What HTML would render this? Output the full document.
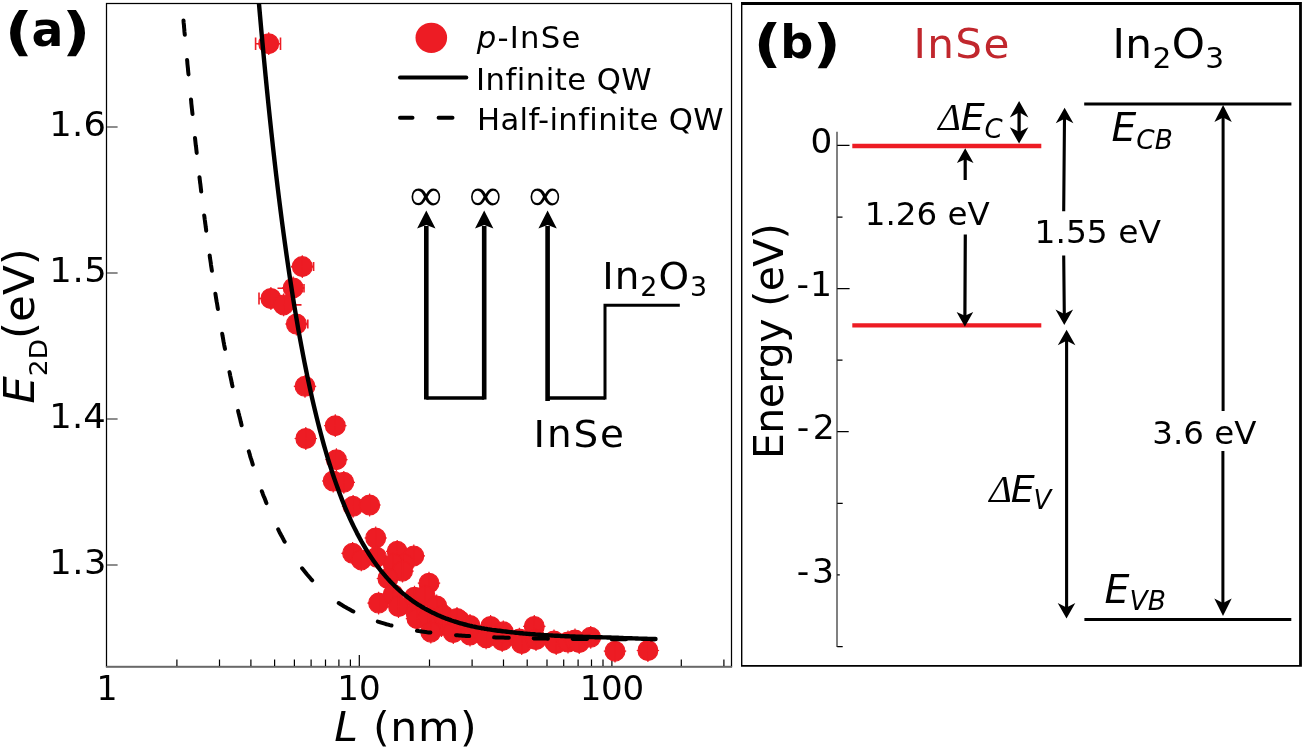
<!DOCTYPE html>
<html lang="en"><head><meta charset="utf-8"><title>Figure: InSe quantum well energies and band alignment</title>
<style>html,body{margin:0;padding:0;background:#fff}svg{display:block}text{font-family:"DejaVu Sans","Liberation Sans",sans-serif}</style></head><body>
<svg width="1304" height="752" viewBox="0 0 1304 752">
<rect width="1304" height="752" fill="#fff"/>
<g id="panelA">
<clipPath id="clipA"><rect x="106.5" y="3.5" width="625.0" height="663.0"/></clipPath>
<rect x="106.5" y="3.5" width="625.0" height="663.0" fill="none" stroke="#000" stroke-width="1.25"/>
<path d="M176.9 666.5 v-7 M219.5 666.5 v-7 M250.9 666.5 v-7 M274.6 666.5 v-7 M294.4 666.5 v-7 M311.1 666.5 v-7 M325.5 666.5 v-7 M338.9 666.5 v-7 M350.4 666.5 v-7 M359.3 666.5 v-11.5 M429.5 666.5 v-7 M472.1 666.5 v-7 M503.5 666.5 v-7 M527.2 666.5 v-7 M547.0 666.5 v-7 M563.7 666.5 v-7 M578.1 666.5 v-7 M591.5 666.5 v-7 M603.0 666.5 v-7 M611.9 666.5 v-11.5 M681.3 666.5 v-7 M723.9 666.5 v-7" stroke="#000" stroke-width="1.2" fill="none"/>
<path d="M105.9 666.8 H732.1 M107.0 127.0 h10.6 M107.0 273.0 h10.6 M107.0 419.0 h10.6 M107.0 565.0 h10.6" stroke="#686868" stroke-width="1.7" fill="none"/>
<g fill="#ed1c24" stroke="#ed1c24" stroke-width="1.2">
<circle cx="268.7" cy="43.7" r="9.9"/>
<path d="M257.5 43.7 h22.4 M268.7 32.3 v22.8"/>
<circle cx="302.3" cy="266.6" r="9.9"/>
<path d="M291.1 266.6 h22.4 M302.3 255.2 v22.8"/>
<circle cx="293.2" cy="287.9" r="9.9"/>
<path d="M282.0 287.9 h22.4 M293.2 276.5 v22.8"/>
<circle cx="270.9" cy="298.5" r="9.9"/>
<path d="M259.7 298.5 h22.4 M270.9 287.1 v22.8"/>
<circle cx="283.6" cy="304.9" r="9.9"/>
<path d="M272.4 304.9 h22.4 M283.6 293.5 v22.8"/>
<circle cx="296.4" cy="324.0" r="9.9"/>
<path d="M285.2 324.0 h22.4 M296.4 312.6 v22.8"/>
<circle cx="305.0" cy="386.3" r="9.9"/>
<path d="M293.8 386.3 h22.4 M305.0 374.9 v22.8"/>
<circle cx="335.3" cy="425.7" r="9.9"/>
<path d="M324.1 425.7 h22.4 M335.3 414.3 v22.8"/>
<circle cx="305.8" cy="438.5" r="9.9"/>
<path d="M294.6 438.5 h22.4 M305.8 427.1 v22.8"/>
<circle cx="336.4" cy="459.7" r="9.9"/>
<path d="M325.2 459.7 h22.4 M336.4 448.3 v22.8"/>
<circle cx="333.2" cy="481.0" r="9.9"/>
<path d="M322.0 481.0 h22.4 M333.2 469.6 v22.8"/>
<circle cx="343.8" cy="482.3" r="9.9"/>
<path d="M332.6 482.3 h22.4 M343.8 470.9 v22.8"/>
<circle cx="353.1" cy="506.3" r="9.9"/>
<path d="M341.9 506.3 h22.4 M353.1 494.9 v22.8"/>
<circle cx="369.6" cy="505.0" r="9.9"/>
<path d="M358.4 505.0 h22.4 M369.6 493.6 v22.8"/>
<circle cx="375.7" cy="538.0" r="9.9"/>
<path d="M364.5 538.0 h22.4 M375.7 526.6 v22.8"/>
<circle cx="352.6" cy="553.3" r="9.9"/>
<path d="M341.4 553.3 h22.4 M352.6 541.9 v22.8"/>
<circle cx="361.3" cy="559.9" r="9.9"/>
<path d="M350.1 559.9 h22.4 M361.3 548.5 v22.8"/>
<circle cx="376.6" cy="557.2" r="9.9"/>
<path d="M365.4 557.2 h22.4 M376.6 545.8 v22.8"/>
<circle cx="397.2" cy="551.3" r="9.9"/>
<path d="M386.0 551.3 h22.4 M397.2 539.9 v22.8"/>
<circle cx="413.8" cy="555.9" r="9.9"/>
<path d="M402.6 555.9 h22.4 M413.8 544.5 v22.8"/>
<circle cx="403.9" cy="563.9" r="9.9"/>
<path d="M392.7 563.9 h22.4 M403.9 552.5 v22.8"/>
<circle cx="393.2" cy="563.9" r="9.9"/>
<path d="M382.0 563.9 h22.4 M393.2 552.5 v22.8"/>
<circle cx="402.5" cy="571.2" r="9.9"/>
<path d="M391.3 571.2 h22.4 M402.5 559.8 v22.8"/>
<circle cx="387.9" cy="578.5" r="9.9"/>
<path d="M376.7 578.5 h22.4 M387.9 567.1 v22.8"/>
<circle cx="429.0" cy="583.2" r="9.9"/>
<path d="M417.8 583.2 h22.4 M429.0 571.8 v22.8"/>
<circle cx="378.6" cy="603.1" r="9.9"/>
<path d="M367.4 603.1 h22.4 M378.6 591.7 v22.8"/>
<circle cx="393.2" cy="594.5" r="9.9"/>
<path d="M382.0 594.5 h22.4 M393.2 583.1 v22.8"/>
<circle cx="398.5" cy="606.5" r="9.9"/>
<path d="M387.3 606.5 h22.4 M398.5 595.1 v22.8"/>
<circle cx="414.5" cy="597.2" r="9.9"/>
<path d="M403.3 597.2 h22.4 M414.5 585.8 v22.8"/>
<circle cx="425.0" cy="596.0" r="9.9"/>
<path d="M413.8 596.0 h22.4 M425.0 584.6 v22.8"/>
<circle cx="436.7" cy="606.0" r="9.9"/>
<path d="M425.5 606.0 h22.4 M436.7 594.6 v22.8"/>
<circle cx="416.0" cy="612.5" r="9.9"/>
<path d="M404.8 612.5 h22.4 M416.0 601.1 v22.8"/>
<circle cx="417.0" cy="618.7" r="9.9"/>
<path d="M405.8 618.7 h22.4 M417.0 607.3 v22.8"/>
<circle cx="441.5" cy="625.5" r="9.9"/>
<path d="M430.3 625.5 h22.4 M441.5 614.1 v22.8"/>
<circle cx="428.5" cy="617.5" r="9.9"/>
<path d="M417.3 617.5 h22.4 M428.5 606.1 v22.8"/>
<circle cx="443.4" cy="615.3" r="9.9"/>
<path d="M432.2 615.3 h22.4 M443.4 603.9 v22.8"/>
<circle cx="430.8" cy="632.2" r="9.9"/>
<path d="M419.6 632.2 h22.4 M430.8 620.8 v22.8"/>
<circle cx="459.6" cy="620.5" r="9.9"/>
<path d="M448.4 620.5 h22.4 M459.6 609.1 v22.8"/>
<circle cx="453.3" cy="632.5" r="9.9"/>
<path d="M442.1 632.5 h22.4 M453.3 621.1 v22.8"/>
<circle cx="470.0" cy="625.5" r="9.9"/>
<path d="M458.8 625.5 h22.4 M470.0 614.1 v22.8"/>
<circle cx="470.0" cy="635.0" r="9.9"/>
<path d="M458.8 635.0 h22.4 M470.0 623.6 v22.8"/>
<circle cx="457.0" cy="618.4" r="9.9"/>
<path d="M445.8 618.4 h22.4 M457.0 607.0 v22.8"/>
<circle cx="490.6" cy="626.5" r="9.9"/>
<path d="M479.4 626.5 h22.4 M490.6 615.1 v22.8"/>
<circle cx="486.1" cy="637.8" r="9.9"/>
<path d="M474.9 637.8 h22.4 M486.1 626.4 v22.8"/>
<circle cx="502.2" cy="640.6" r="9.9"/>
<path d="M491.0 640.6 h22.4 M502.2 629.2 v22.8"/>
<circle cx="503.3" cy="631.8" r="9.9"/>
<path d="M492.1 631.8 h22.4 M503.3 620.4 v22.8"/>
<circle cx="519.4" cy="639.1" r="9.9"/>
<path d="M508.2 639.1 h22.4 M519.4 627.7 v22.8"/>
<circle cx="521.7" cy="643.6" r="9.9"/>
<path d="M510.5 643.6 h22.4 M521.7 632.2 v22.8"/>
<circle cx="534.3" cy="626.4" r="9.9"/>
<path d="M523.1 626.4 h22.4 M534.3 615.0 v22.8"/>
<circle cx="536.0" cy="639.5" r="9.9"/>
<path d="M524.8 639.5 h22.4 M536.0 628.1 v22.8"/>
<circle cx="554.0" cy="641.0" r="9.9"/>
<path d="M542.8 641.0 h22.4 M554.0 629.6 v22.8"/>
<circle cx="556.2" cy="643.6" r="9.9"/>
<path d="M545.0 643.6 h22.4 M556.2 632.2 v22.8"/>
<circle cx="568.0" cy="642.0" r="9.9"/>
<path d="M556.8 642.0 h22.4 M568.0 630.6 v22.8"/>
<circle cx="575.0" cy="640.0" r="9.9"/>
<path d="M563.8 640.0 h22.4 M575.0 628.6 v22.8"/>
<circle cx="579.2" cy="642.5" r="9.9"/>
<path d="M568.0 642.5 h22.4 M579.2 631.1 v22.8"/>
<circle cx="590.7" cy="637.3" r="9.9"/>
<path d="M579.5 637.3 h22.4 M590.7 625.9 v22.8"/>
<circle cx="615.0" cy="651.2" r="9.9"/>
<path d="M603.8 651.2 h22.4 M615.0 639.8 v22.8"/>
<circle cx="647.9" cy="650.5" r="9.9"/>
<path d="M636.7 650.5 h22.4 M647.9 639.1 v22.8"/>
<path fill="none" stroke-width="1.6" d="M255.6 43.7 H280.5 M255.6 37.5 v12.5 M280.5 37.5 v12.5 M259 298.5 H283 M259 292.5 v12 M283.6 304.9 H301.5 M296 324 H307.8 M307.8 319.5 v9 M277.5 288.3 H304 M304 284 v8.5 M291 266.6 H313.6 M313.6 262 v9"/>
</g>
<g clip-path="url(#clipA)" fill="none" stroke="#000" stroke-linecap="round" stroke-linejoin="round">
<path stroke-width="4.4" d="M255.0 -44.1 L256.5 -25.7 L258.0 -7.7 L259.5 9.7 L261.0 26.7 L262.5 43.3 L264.0 59.4 L265.5 75.0 L267.0 90.2 L268.5 105.1 L270.0 119.5 L271.5 133.5 L273.0 147.2 L274.5 160.5 L276.0 173.4 L277.5 186.0 L279.0 198.2 L280.5 210.1 L282.0 221.7 L283.5 233.0 L285.0 243.9 L286.5 254.6 L288.0 265.0 L289.5 275.1 L291.0 284.9 L292.5 294.5 L294.0 303.8 L295.5 312.9 L297.0 321.7 L298.5 330.3 L300.0 338.6 L301.5 346.7 L303.0 354.6 L304.5 362.3 L306.0 369.8 L307.5 377.1 L309.0 384.1 L310.5 391.0 L312.0 397.7 L313.5 404.3 L315.0 410.6 L316.5 416.8 L318.0 422.8 L319.5 428.6 L321.0 434.3 L322.5 439.9 L324.0 445.3 L325.5 450.5 L327.0 455.6 L328.5 460.6 L330.0 465.4 L331.5 470.1 L333.0 474.7 L334.5 479.1 L336.0 483.4 L337.5 487.6 L339.0 491.7 L340.5 495.7 L342.0 499.6 L343.5 503.4 L345.0 507.0 L346.5 510.6 L348.0 514.1 L349.5 517.5 L351.0 520.8 L352.5 524.0 L354.0 527.1 L355.5 530.1 L357.0 533.1 L358.5 535.9 L360.0 538.7 L361.5 541.5 L363.0 544.1 L364.5 546.7 L366.0 549.2 L367.5 551.6 L369.0 554.0 L370.5 556.3 L372.0 558.5 L373.5 560.7 L375.0 562.8 L376.5 564.9 L378.0 566.9 L379.5 568.9 L381.0 570.8 L382.5 572.6 L384.0 574.4 L385.5 576.2 L387.0 577.9 L388.5 579.6 L390.0 581.2 L391.5 582.8 L393.0 584.3 L394.5 585.8 L396.0 587.2 L397.5 588.6 L399.0 590.0 L400.5 591.3 L402.0 592.6 L403.5 593.9 L405.0 595.1 L406.5 596.3 L408.0 597.5 L409.5 598.6 L411.0 599.7 L412.5 600.8 L414.0 601.8 L415.5 602.9 L417.0 603.8 L418.5 604.8 L420.0 605.7 L421.5 606.7 L423.0 607.5 L424.5 608.4 L426.0 609.2 L427.5 610.1 L429.0 610.8 L430.5 611.6 L432.0 612.4 L433.5 613.1 L435.0 613.8 L436.5 614.5 L438.0 615.2 L439.5 615.8 L441.0 616.5 L442.5 617.1 L444.0 617.7 L445.5 618.3 L447.0 618.8 L448.5 619.4 L450.0 619.9 L451.5 620.5 L453.0 621.0 L454.5 621.5 L456.0 621.9 L457.5 622.4 L459.0 622.9 L460.5 623.3 L462.0 623.7 L463.5 624.1 L465.0 624.5 L466.5 624.9 L468.0 625.3 L469.5 625.7 L471.0 626.0 L472.5 626.4 L474.0 626.7 L475.5 627.0 L477.0 627.3 L478.5 627.6 L480.0 627.9 L481.5 628.2 L483.0 628.4 L484.5 628.7 L486.0 628.9 L487.5 629.2 L489.0 629.4 L490.5 629.6 L492.0 629.9 L493.5 630.1 L495.0 630.3 L496.5 630.5 L498.0 630.7 L499.5 630.8 L501.0 631.0 L502.5 631.2 L504.0 631.4 L505.5 631.5 L507.0 631.7 L508.5 631.9 L510.0 632.1 L511.5 632.2 L513.0 632.4 L514.5 632.5 L516.0 632.7 L517.5 632.9 L519.0 633.0 L520.5 633.2 L522.0 633.3 L523.5 633.5 L525.0 633.6 L526.5 633.7 L528.0 633.9 L529.5 634.0 L531.0 634.1 L532.5 634.2 L534.0 634.3 L535.5 634.5 L537.0 634.6 L538.5 634.7 L540.0 634.8 L541.5 634.9 L543.0 635.0 L544.5 635.1 L546.0 635.2 L547.5 635.3 L549.0 635.4 L550.5 635.4 L552.0 635.5 L553.5 635.6 L555.0 635.7 L556.5 635.8 L558.0 635.8 L559.5 635.9 L561.0 636.0 L562.5 636.1 L564.0 636.1 L565.5 636.2 L567.0 636.3 L568.5 636.3 L570.0 636.4 L571.5 636.4 L573.0 636.5 L574.5 636.5 L576.0 636.6 L577.5 636.7 L579.0 636.7 L580.5 636.8 L582.0 636.8 L583.5 636.9 L585.0 636.9 L586.5 636.9 L588.0 637.0 L589.5 637.0 L591.0 637.1 L592.5 637.1 L594.0 637.1 L595.5 637.2 L597.0 637.2 L598.5 637.3 L600.0 637.3 L601.5 637.3 L603.0 637.4 L604.5 637.4 L606.0 637.4 L607.5 637.5 L609.0 637.5 L610.5 637.5 L612.0 637.6 L613.5 637.6 L615.0 637.7 L616.5 637.8 L618.0 637.8 L619.5 637.9 L621.0 637.9 L622.5 638.0 L624.0 638.1 L625.5 638.1 L627.0 638.2 L628.5 638.2 L630.0 638.3 L631.5 638.3 L633.0 638.4 L634.5 638.4 L636.0 638.5 L637.5 638.5 L639.0 638.6 L640.5 638.6 L642.0 638.7 L643.5 638.7 L645.0 638.8 L646.5 638.8 L648.0 638.9 L649.5 638.9 L651.0 639.0 L652.5 639.0 L654.0 639.0 L655.5 639.0"/>
<path stroke-width="4" d="M183.5 20.4 L183.6 22.2 L183.8 24.0 L184.0 25.8 L184.1 27.6 L184.3 29.4 L184.4 31.2 L184.6 33.0 L184.8 34.8 M187.1 60.0 L187.3 61.8 L187.4 63.6 L187.6 65.4 L187.8 67.2 L188.0 69.0 L188.1 70.8 L188.3 72.6 L188.5 74.4 M191.0 99.5 L191.2 101.3 L191.3 103.1 L191.5 104.9 L191.7 106.8 L191.9 108.6 L192.1 110.4 L192.3 112.2 L192.5 114.0 M195.0 137.9 L195.2 139.8 L195.4 141.6 L195.6 143.5 L195.8 145.4 L196.1 147.3 L196.3 149.2 L196.5 151.0 L196.7 152.9 M199.5 177.2 L199.7 179.0 L199.9 180.8 L200.1 182.6 L200.4 184.4 L200.6 186.2 L200.8 188.0 L201.0 189.8 L201.2 191.6 M204.2 215.5 L204.5 217.4 L204.7 219.3 L205.0 221.2 L205.2 223.1 L205.5 225.0 L205.7 226.9 L206.0 228.8 L206.2 230.7 M209.7 255.5 L209.9 257.4 L210.2 259.3 L210.5 261.2 L210.8 263.1 L211.0 265.0 L211.3 266.9 L211.6 268.8 L211.9 270.7 M215.4 293.8 L215.7 295.7 L216.0 297.6 L216.3 299.5 L216.6 301.4 L217.0 303.3 L217.3 305.2 L217.6 307.1 L217.9 309.0 M222.2 333.8 L222.5 335.7 L222.9 337.6 L223.2 339.5 L223.5 341.4 L223.9 343.2 L224.2 345.1 L224.6 347.0 L225.0 348.9 M229.5 372.1 L229.9 373.8 L230.2 375.6 L230.6 377.4 L231.0 379.2 L231.4 381.0 L231.7 382.8 L232.1 384.6 L232.5 386.3 M238.1 410.9 L238.5 412.7 L239.0 414.5 L239.4 416.3 L239.9 418.1 L240.3 419.8 L240.7 421.6 L241.2 423.4 L241.6 425.2 M248.8 451.3 L249.3 453.0 L249.8 454.6 L250.2 456.3 L250.7 457.9 L251.3 459.6 L251.8 461.3 L252.3 462.9 L252.8 464.6 M261.8 491.2 L262.4 492.7 L262.9 494.2 L263.5 495.7 L264.1 497.1 L264.7 498.6 L265.3 500.1 L265.8 501.6 L266.4 503.1 M278.2 529.4 L278.9 530.9 L279.7 532.5 L280.5 534.0 L281.3 535.5 L282.2 537.1 L283.0 538.6 L283.8 540.2 L284.7 541.7 M302.1 568.3 L303.3 569.8 L304.5 571.3 L305.7 572.8 L306.9 574.3 L308.2 575.8 L309.5 577.3 L310.8 578.8 L312.2 580.3 M338.7 603.0 L340.6 604.2 L342.4 605.3 L344.2 606.5 L346.1 607.5 L347.9 608.6 L349.7 609.6 L351.5 610.6 L353.4 611.5 M377.8 621.6 L379.5 622.1 L381.2 622.7 L382.9 623.2 L384.6 623.7 L386.4 624.2 L388.1 624.6 L389.8 625.1 L391.5 625.5 M417.0 630.7 L418.7 631.0 L420.3 631.2 L422.0 631.5 L423.7 631.7 L425.4 631.9 L427.1 632.2 L428.7 632.4 L430.4 632.6 M456.0 635.2 L457.6 635.3 L459.3 635.4 L460.9 635.5 L462.6 635.7 L464.3 635.8 L465.9 635.9 L467.6 636.0 L469.2 636.1 M494.1 637.3 L495.9 637.4 L497.8 637.5 L499.6 637.5 L501.5 637.6 L503.3 637.6 L505.1 637.7 L507.0 637.8 L508.8 637.8 M533.7 638.4 L535.5 638.5 L537.2 638.5 L539.0 638.5 L540.8 638.5 L542.6 638.6 L544.4 638.6 L546.1 638.6 L547.9 638.7 M572.7 638.9 L574.5 639.0 L576.3 639.0 L578.1 639.0 L579.9 639.0 L581.6 639.0 L583.4 639.0 L585.2 639.1 L587.0 639.1 M611.7 639.2 L613.5 639.2 L615.3 639.2 L617.1 639.2 L618.9 639.2 L620.6 639.2 L622.4 639.3 L624.2 639.3 L626.0 639.3 M650.7 639.3 L651.2 639.3 L651.6 639.3 L652.1 639.3 L652.6 639.3 L653.1 639.3 L653.6 639.3 L654.0 639.3 L654.5 639.3"/>
</g>
<ellipse cx="431.3" cy="37.8" rx="15.8" ry="15.1" fill="#ed1c24"/>
<path d="M400 77.6 H466.3" stroke="#000" stroke-width="4" stroke-linecap="round" fill="none"/>
<path d="M400 117.7 H412.5 M438.6 117.7 H452.5" stroke="#000" stroke-width="4" stroke-linecap="round" fill="none"/>
<g stroke="#000" fill="none" stroke-linejoin="miter">
<path stroke-width="4.6" d="M426.3 226 V399.6 M484.2 226 V399.6 M547.6 226 V401"/>
<path stroke-width="3.4" d="M426.3 398 H484.2 M547.6 398 H605"/>
<path stroke-width="3" d="M605 399.5 V305.2 H679.8"/>
</g>
<g fill="#000">
<path d="M426.3 210.5 L417.1 228.5 L426.3 225.0 L435.5 228.5 Z"/>
<path d="M484.2 210.5 L475.0 228.5 L484.2 225.0 L493.4 228.5 Z"/>
<path d="M547.6 210.5 L538.4 228.5 L547.6 225.0 L556.8 228.5 Z"/>
</g>
</g>
<g id="panelB">
<path fill="#000" d="M741 1.9 H1301.9 V666.7 H741 Z M742.4 4.9 V665 H1299.1 V4.9 Z" fill-rule="evenodd"/>
<path d="M837 131.8 V647" stroke="#6a6a6a" stroke-width="1.7" fill="none"/>
<path d="M837.2 145.4 h12.3 M837.2 217.0 h5.3 M837.2 288.6 h12.4 M837.2 360.2 h5.3 M837.2 431.7 h11.5 M837.2 503.3 h5.5 M837.2 574.9 h2.6 M837.2 646.5 h5.5" stroke="#000" stroke-width="1.25" fill="none"/>
<path d="M852.3 146 H1041.3 M852.3 325.4 H1041.3" stroke="#ed1c24" stroke-width="4.4" fill="none"/>
<path d="M1084.2 104.1 H1291.4 M1084.4 619.5 H1291.3" stroke="#000" stroke-width="3" fill="none"/>
<g stroke="#000" fill="none">
<path stroke-width="3.3" d="M1019.1 110 V134"/>
<path stroke-width="3.2" d="M965.2 158 V179.9 M965.3 234.5 L964.9 316"/>
<path stroke-width="3.1" d="M1064.5 117 L1063.7 211.2 M1063.7 255.5 L1064.3 314"/>
<path stroke-width="3.1" d="M1066.6 340 V608"/>
<path stroke-width="3" d="M1223.1 114 V411 M1222.9 451 V605"/>
</g><g fill="#000">
<path d="M1019.1 101.0 L1009.8 117.5 L1019.1 112.3 L1028.4 117.5 Z"/>
<path d="M1019.1 143.6 L1009.8 127.2 L1019.1 131.9 L1028.4 127.2 Z"/>
<path d="M965.2 148.2 L956.9 163.0 L965.2 159.2 L973.5 163.0 Z"/>
<path d="M964.9 326.8 L956.6 312.0 L964.9 315.8 L973.2 312.0 Z"/>
<path d="M1064.6 107.7 L1055.8 123.2 L1064.6 118.7 L1073.4 123.2 Z"/>
<path d="M1064.3 325.0 L1055.5 309.5 L1064.3 314.0 L1073.1 309.5 Z"/>
<path d="M1066.6 329.8 L1057.8 345.3 L1066.6 340.8 L1075.4 345.3 Z"/>
<path d="M1066.5 618.6 L1057.7 603.1 L1066.5 607.6 L1075.3 603.1 Z"/>
<path d="M1223.1 104.9 L1214.4 121.9 L1223.1 117.4 L1231.8 121.9 Z"/>
<path d="M1223.0 615.9 L1214.3 598.4 L1223.0 602.9 L1231.7 598.4 Z"/>
</g></g>
<g id="labels">
<text id="la1" font-size="48.5" fill="#000" font-weight="bold" transform="translate(4.85 49.30) scale(1.272 1.06)">(</text>
<text id="la2" font-size="48.5" fill="#000" font-weight="bold" transform="translate(31.50 46.00) scale(0.976 0.9947)">a</text>
<text id="la3" font-size="48.5" fill="#000" font-weight="bold" transform="translate(62.00 49.30) scale(1.279 1.06)">)</text>
<text id="yt6" font-size="34" fill="#000" style="letter-spacing:0.264px" transform="translate(49.25 136.00) scale(1.04 1)">1.6</text>
<text id="yt5" font-size="34" fill="#000" style="letter-spacing:0.625px" transform="translate(49.25 282.00) scale(1.04 1)">1.5</text>
<text id="yt4" font-size="34" fill="#000" style="letter-spacing:0.144px" transform="translate(49.25 428.00) scale(1.04 1)">1.4</text>
<text id="yt3" font-size="34" fill="#000" style="letter-spacing:0.505px" transform="translate(49.25 574.00) scale(1.04 1)">1.3</text>
<text id="xt1" font-size="34" fill="#000" transform="translate(96.40 700.40) scale(0.9729 1)">1</text>
<text id="xt10" font-size="34" fill="#000" transform="translate(337.25 700.40) scale(1.003 1)">10</text>
<text id="xt100" font-size="34" fill="#000" style="letter-spacing:-0.250px" transform="translate(579.65 700.40)">100</text>
<text id="xlab" font-size="41" fill="#000" style="letter-spacing:0.625px" transform="translate(334.35 741.30) scale(1.04 1)"><tspan font-style="italic">L</tspan> (nm)</text>
<text id="ylab" font-size="42" fill="#000" transform="translate(33.60 403.80) rotate(-90) scale(1.04 1)"><tspan font-style="italic">E</tspan><tspan font-size="25.5" dy="13.1">2D</tspan><tspan dy="-13.1">(eV)</tspan></text>
<text id="lg1" font-size="29.5" fill="#000" style="letter-spacing:1.240px" transform="translate(476.65 48.40) scale(1.04 1)"><tspan font-style="italic">p</tspan>-InSe</text>
<text id="lg2" font-size="29.5" fill="#000" style="letter-spacing:0.466px" transform="translate(476.00 90.30) scale(1.04 1)">Infinite QW</text>
<text id="lg3" font-size="29.5" fill="#000" style="letter-spacing:0.375px" transform="translate(476.95 129.80) scale(1.04 1)">Half-infinite QW</text>
<text id="inf0" font-size="45" fill="#000" text-anchor="middle" style="font-family:'Liberation Serif','DejaVu Serif',serif" transform="translate(425.80 209.50)">∞</text>
<text id="inf1" font-size="45" fill="#000" text-anchor="middle" style="font-family:'Liberation Serif','DejaVu Serif',serif" transform="translate(485.40 209.50)">∞</text>
<text id="inf2" font-size="45" fill="#000" text-anchor="middle" style="font-family:'Liberation Serif','DejaVu Serif',serif" transform="translate(544.80 209.50)">∞</text>
<text id="in2o3a" font-size="37.4" fill="#000" style="letter-spacing:0.937px" transform="translate(602.25 288.50) scale(1.04 1)">In<tspan font-size="25.9" dy="7.5">2</tspan><tspan dy="-7.5">O</tspan><tspan font-size="25.9" dy="7.5">3</tspan></text>
<text id="insea" font-size="37.4" fill="#000" style="letter-spacing:1.795px" transform="translate(533.60 446.90) scale(1.04 1)">InSe</text>
<text id="lb1" font-size="48.5" fill="#000" font-weight="bold" transform="translate(753.40 61.20) scale(1.272 1.052)">(</text>
<text id="lb2" font-size="48.5" fill="#000" font-weight="bold" transform="translate(780.35 58.20) scale(0.9526 0.9682)">b</text>
<text id="lb3" font-size="48.5" fill="#000" font-weight="bold" transform="translate(812.85 61.20) scale(1.268 1.052)">)</text>
<text id="inseb" font-size="40.5" fill="#c1272d" style="letter-spacing:1.378px" transform="translate(913.40 58.30) scale(1.04 1)">InSe</text>
<text id="in2o3b" font-size="40.5" fill="#000" style="letter-spacing:0.445px" transform="translate(1112.40 58.30) scale(1.04 1)">In<tspan font-size="28.5" dy="9.3">2</tspan><tspan dy="-9.3">O</tspan><tspan font-size="28.5" dy="9.3">3</tspan></text>
<text id="bt0" font-size="33.3" fill="#000" transform="translate(810.60 153.00) scale(1.028 1)">0</text>
<text id="bt1" font-size="33.3" fill="#000" style="letter-spacing:1.058px" transform="translate(796.40 296.17) scale(1.04 1)">-1</text>
<text id="bt2" font-size="33.3" fill="#000" style="letter-spacing:3.317px" transform="translate(796.70 439.34) scale(1.04 1)">-2</text>
<text id="bt3" font-size="33.3" fill="#000" style="letter-spacing:2.596px" transform="translate(796.70 582.51) scale(1.04 1)">-3</text>
<text id="ylabb" font-size="41" fill="#000" style="letter-spacing:-0.605px" transform="translate(783.40 459.00) rotate(-90)">Energy (eV)</text>
<text id="dec" font-size="38" fill="#000" style="letter-spacing:-0.200px" transform="translate(938.30 130.00)"><tspan font-size="38.5" font-style="italic" style="font-family:'Liberation Serif','DejaVu Serif',serif">Δ</tspan><tspan font-style="italic">E</tspan><tspan font-size="26" dy="8" font-style="italic">C</tspan></text>
<text id="ecb" font-size="38.4" fill="#000" transform="translate(1111.55 140.90) scale(1.022 1)"><tspan font-style="italic">E</tspan><tspan font-size="25.8" dy="7.6" font-style="italic">CB</tspan></text>
<text id="t126" font-size="32.2" fill="#000" transform="translate(864.85 224.60) scale(1.009 1)">1.26 eV</text>
<text id="t155" font-size="32.5" fill="#000" transform="translate(1034.55 243.00) scale(1.012 1)">1.55 eV</text>
<text id="t36" font-size="32.2" fill="#000" transform="translate(1152.30 444.10) scale(1.008 1)">3.6 eV</text>
<text id="dev" font-size="38" fill="#000" style="letter-spacing:-1.200px" transform="translate(989.25 501.90)"><tspan font-size="38.5" font-style="italic" style="font-family:'Liberation Serif','DejaVu Serif',serif">Δ</tspan><tspan font-style="italic">E</tspan><tspan font-size="26" dy="6.8" font-style="italic">V</tspan></text>
<text id="evb" font-size="38.4" fill="#000" transform="translate(1104.55 602.50) scale(1.029 1)"><tspan font-style="italic">E</tspan><tspan font-size="25.8" dy="7.9" font-style="italic">VB</tspan></text>
</g>
</svg></body></html>
